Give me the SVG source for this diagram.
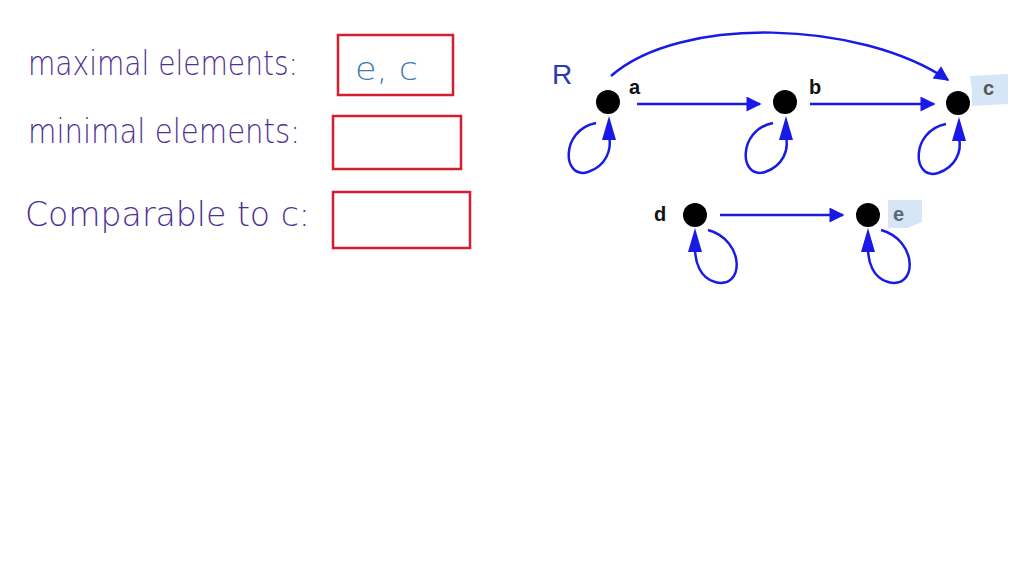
<svg xmlns="http://www.w3.org/2000/svg" width="1024" height="576" viewBox="0 0 1024 576">
<defs>
<marker id="ahl" viewBox="0 0 10 10" refX="9" refY="5" markerWidth="7" markerHeight="6" orient="auto">
<path d="M0,0 L10,5 L0,10 z" fill="#1a1ae6"/>
</marker>
<style>
.hw{font-family:"DejaVu Sans","Liberation Sans",sans-serif;font-size:33px;fill:#4e3193;font-weight:300}
.box{fill:none;stroke:#d21f30;stroke-width:2.5}
.node{fill:#000}
.lbl{font-family:"Liberation Sans",Arial,sans-serif;font-weight:bold;font-size:20px;fill:#111}
.edge{fill:none;stroke:#1a1ae6;stroke-width:2.5}
.hl{fill:#d6e6f7}
</style>
</defs>
<rect width="1024" height="576" fill="#fff"/>
<g id="labels-left">
<text class="hw" x="28" y="75" textLength="270" lengthAdjust="spacingAndGlyphs">maximal elements:</text>
<text class="hw" x="28" y="143" textLength="272" lengthAdjust="spacingAndGlyphs">minimal elements:</text>
<text class="hw" x="25" y="226" textLength="285" lengthAdjust="spacingAndGlyphs">Comparable to c:</text>
</g>
<g id="box-max"><rect class="box" x="338" y="35" width="115" height="60"/>
<text x="355" y="80" font-family="DejaVu Sans,sans-serif" font-size="32" font-weight="300" fill="#3f7db3" textLength="63" lengthAdjust="spacingAndGlyphs">e, c</text></g>
<g id="box-min"><rect class="box" x="333" y="116" width="128" height="53"/></g>
<g id="box-comp"><rect class="box" x="333" y="192" width="137" height="56"/></g>
<text x="552" y="84" font-family="Liberation Sans,Arial,sans-serif" font-size="28" fill="#2a3ab0">R</text>
<g id="connectors">
<path class="edge" d="M611,76 C680,15 860,20 948,80" marker-end="url(#ahl)"/>
<line class="edge" x1="637" y1="104" x2="760" y2="104" marker-end="url(#ahl)"/>
<line class="edge" x1="810" y1="104" x2="934" y2="104" marker-end="url(#ahl)"/>
<line class="edge" x1="720" y1="215" x2="843" y2="215" marker-end="url(#ahl)"/>
<path class="edge" d="M596,123 C560,130 562,180 588,172 C606,166 612,150 609,136"/>
<path class="edge" d="M773,123 C737,130 739,180 765,172 C783,166 789,150 786,137"/>
<path class="edge" d="M946,124 C910,131 912,181 938,173 C956,167 962,151 959,138"/>
<path class="edge" d="M708,230 C745,240 745,290 715,282 C700,278 695,262 695,248"/>
<path class="edge" d="M881,230 C918,240 918,290 888,282 C873,278 868,262 868,248"/>
<g fill="#1a1ae6">
<path d="M609,116 L602,140 L616,140 z"/>
<path d="M786,116 L779,140 L793,140 z"/>
<path d="M959,117 L952,141 L966,141 z"/>
<path d="M695,228 L688,252 L702,252 z"/>
<path d="M868,228 L861,252 L875,252 z"/>
</g>
</g>
<g id="node-a"><circle class="node" cx="608" cy="102" r="12"/><text class="lbl" x="629" y="94">a</text></g>
<g id="node-b"><circle class="node" cx="785" cy="102" r="12"/><text class="lbl" x="809" y="94">b</text></g>
<g id="node-c"><path class="hl" d="M970,76 L1008,74 L1008,104 L972,106 L972,90 z"/><circle class="node" cx="958" cy="103" r="12"/><text class="lbl" x="983" y="95" style="fill:#555">c</text></g>
<g id="node-d"><circle class="node" cx="695" cy="215" r="12"/><text class="lbl" x="654" y="221">d</text></g>
<g id="node-e"><path class="hl" d="M888,200 L922,200 L922,222 L908,228 L888,228 z"/><circle class="node" cx="868" cy="215" r="12"/><text class="lbl" x="893" y="221" style="fill:#5a6a7a">e</text></g>
</svg>
